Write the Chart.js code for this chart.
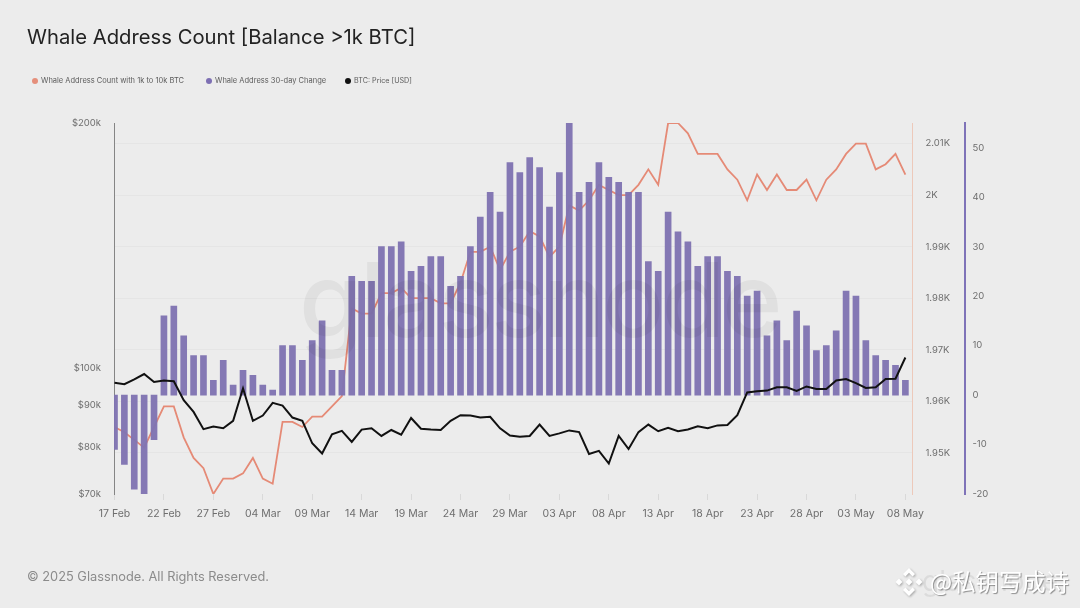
<!DOCTYPE html>
<html>
<head>
<meta charset="utf-8">
<title>Whale Address Count</title>
<script src="https://cdn.jsdelivr.net/npm/chart.js@4/dist/chart.umd.min.js"></script>
<style>
  html, body { margin: 0; padding: 0; background: #ececec; }
  #page { position: relative; width: 1080px; height: 608px; overflow: hidden; background: #ececec; font-family: Inter, "Noto Sans", sans-serif; }
  #chart { position: absolute; left: 0; top: 0; }
  .title { position: absolute; left: 27px; top: 24px; font-size: 20.25px; line-height: 26px; color: #222; white-space: nowrap; }
  .legend { position: absolute; top: 75px; font-size: 7.5px; line-height: 11px; color: #5c5c5c; white-space: nowrap; }
  .legend i { position: absolute; left: -9px; top: 2.5px; width: 6px; height: 6px; border-radius: 50%; }
  .footer { position: absolute; left: 27px; top: 568px; font-size: 12.8px; line-height: 17px; color: #8b8b8b; white-space: nowrap; }
  .mark { position: absolute; left: 299px; top: 240px; font-size: 103px; line-height: 120px; font-weight: 500; letter-spacing: -3px; color: rgba(0,0,0,0.05); white-space: nowrap; pointer-events: none; }
  .mark2 { position: absolute; left: 922px; top: 565px; font-size: 28px; line-height: 32px; color: rgba(0,0,0,0.07); white-space: nowrap; }
  .handle { position: absolute; left: 930px; top: 567px; font-family: "Noto Sans CJK SC", sans-serif; font-size: 23.4px; line-height: 28px; color: #fff; text-shadow: 1px 1px 1px rgba(0,0,0,0.4); white-space: nowrap; }
  .logo { position: absolute; left: 894px; top: 567px; filter: drop-shadow(1px 1px 1px rgba(0,0,0,0.3)); }
</style>
</head>
<body>
<div id="page">
  <canvas id="chart" width="1080" height="608"></canvas>
  <div class="title">Whale Address Count [Balance &gt;1k BTC]</div>
  <div class="legend" style="left:41px"><i style="background:#e58f7b"></i>Whale Address Count with 1k to 10k BTC</div>
  <div class="legend" style="left:215px"><i style="background:#7d6fb3"></i>Whale Address 30-day Change</div>
  <div class="legend" style="left:354px;font-size:7.2px"><i style="background:#111"></i>BTC: Price [USD]</div>
  <div class="mark">glassnode</div>
  <div class="footer">© 2025 Glassnode. All Rights Reserved.</div>
  <div class="mark2">glassnode</div>
  <svg class="logo" width="30" height="30" viewBox="0 0 30 30">
    <path fill="#fff" d="M15 1l6 6-2.4 2.4L15 5.8l-3.6 3.6L9 7zM15 29l-6-6 2.4-2.4 3.6 3.6 3.6-3.6L21 23zM5 11.6L8.400 15 5 18.400 1.600 15zM25 11.600L28.400 15 25 18.400 21.600 15zM15 11.600L18.400 15 15 18.400 11.600 15z"/>
  </svg>
  <div class="handle">@私钥写成诗</div>
</div>
<script>
const dateLabels = {
  0: "17 Feb", 5: "22 Feb", 10: "27 Feb", 15: "04 Mar", 20: "09 Mar", 25: "14 Mar", 30: "19 Mar", 35: "24 Mar",
  40: "29 Mar", 45: "03 Apr", 50: "08 Apr", 55: "13 Apr", 60: "18 Apr", 65: "23 Apr", 70: "28 Apr", 75: "03 May", 80: "08 May"
};
const whaleCount = [
  1955, 1954, 1952.5, 1951, 1955, 1959, 1959, 1953, 1949, 1947, 1942, 1945, 1945, 1946, 1949, 1945, 1944, 1956, 1956, 1955,
  1957, 1957, 1959, 1961, 1978, 1977, 1977, 1981, 1981, 1982, 1980, 1980, 1980, 1979, 1979, 1983, 1989, 1989, 1990, 1985.5,
  1989, 1990, 1993, 1992, 1988, 1990, 1998, 1997, 1999, 2002, 2001, 2000, 2000, 2002, 2005, 2002, 2014, 2014, 2012, 2008,
  2008, 2008, 2005, 2003, 1999, 2004, 2001, 2004, 2001, 2001, 2003, 1999, 2003, 2005, 2008, 2010, 2010, 2005, 2006, 2008, 2004
];
const whaleChange = [
  -11, -14, -19, -20, -9, 16, 18, 12, 8, 8, 3, 7, 2, 5, 4, 2, 1, 10, 10, 7,
  11, 15, 5, 5, 24, 23, 23, 30, 30, 31, 25, 26, 28, 28, 22, 24, 30, 36, 41, 37,
  47, 45, 48, 46, 38, 45, 55, 41, 43, 47, 44, 43, 41, 41, 27, 25, 37, 33, 31, 26,
  28, 28, 25, 24, 20, 21, 12, 15, 11, 17, 14, 9, 10, 13, 21, 20, 11, 8, 7, 6, 3
];
const btcPrice = [
  95900, 95500, 96800, 98300, 96100, 96500, 96300, 91300, 88300, 84100, 84700, 84300, 86100, 94400, 86100, 87400, 90600, 89900, 86900, 86100,
  80800, 78500, 82900, 83700, 81100, 84000, 84300, 82500, 83900, 82800, 86800, 84200, 84000, 83900, 86100, 87500, 87400, 86900, 87100, 84300,
  82600, 82300, 82500, 85200, 82500, 83100, 83800, 83400, 78400, 79100, 76300, 82500, 79500, 83400, 85200, 83600, 84400, 83600, 84000, 84800,
  84300, 85000, 85100, 87500, 93300, 93600, 93800, 94700, 94700, 93700, 94900, 94200, 94200, 96500, 96900, 95800, 94500, 94700, 96900, 97000, 103000
];
const priceTicks = [70000, 80000, 90000, 100000, 200000];

const tickFont = { family: "Inter", size: 10.5 };
const sideFont = { family: "Inter", size: 9.5 };
const tickColor = "#6e6e6e";
const toPoints = arr => arr.map((v, i) => ({ x: i, y: v }));

new Chart(document.getElementById("chart"), {
  data: {
    datasets: [
      {
        type: "line",
        label: "BTC: Price [USD]",
        data: toPoints(btcPrice),
        yAxisID: "yPrice",
        borderColor: "#111",
        borderWidth: 2,
        pointRadius: 0,
        tension: 0,
        order: 1
      },
      {
        type: "bar",
        label: "Whale Address 30-day Change",
        data: toPoints(whaleChange),
        yAxisID: "yChange",
        backgroundColor: "rgba(128,116,178,0.97)",
        barThickness: 6,
        order: 2
      },
      {
        type: "line",
        label: "Whale Address Count with 1k to 10k BTC",
        data: toPoints(whaleCount),
        yAxisID: "yCount",
        borderColor: "#e58a76",
        borderWidth: 1.8,
        pointRadius: 0,
        tension: 0,
        order: 3
      }
    ]
  },
  options: {
    responsive: false,
    animation: false,
    devicePixelRatio: 1,
    layout: { padding: { top: 123, bottom: 0, left: 0, right: 0 } },
    plugins: { legend: { display: false }, title: { display: false }, tooltip: { enabled: false } },
    scales: {
      x: {
        type: "linear",
        offset: false,
        min: -0.05,
        max: 80.72,
        grid: { offset: false, drawOnChartArea: false, drawTicks: true, tickLength: 6, color: "#d9d9d9" },
        border: { display: false },
        ticks: {
          stepSize: 5,
          includeBounds: false,
          autoSkip: false,
          maxRotation: 0,
          padding: 8,
          font: tickFont,
          color: tickColor,
          callback: v => dateLabels[v] || ""
        },
        afterFit: s => { s.height = 114; }
      },
      yPrice: {
        type: "logarithmic",
        position: "left",
        min: 70000,
        max: 200000,
        grid: { display: false, drawTicks: false },
        border: { display: true, color: "#858585", width: 1 },
        ticks: {
          autoSkip: false,
          padding: 13,
          font: sideFont,
          color: tickColor,
          callback: v => "$" + v / 1000 + "k"
        },
        afterBuildTicks: s => { s.ticks = priceTicks.map(v => ({ value: v })); },
        afterFit: s => { s.width = 114; }
      },
      yCount: {
        type: "linear",
        position: "right",
        weight: 1,
        min: 1942,
        max: 2014,
        grid: { drawTicks: false, color: "#e5e5e5" },
        border: { display: true, color: "#edc9ba", width: 1 },
        ticks: {
          stepSize: 10,
          includeBounds: false,
          padding: 13,
          font: sideFont,
          color: tickColor,
          callback: v => v / 1000 + "K"
        },
        afterFit: s => { s.width = 52; }
      },
      yChange: {
        type: "linear",
        position: "right",
        weight: 2,
        min: -20,
        max: 55,
        grid: { display: false, drawTicks: false },
        border: { display: true, color: "#7f73b8", width: 2 },
        ticks: {
          stepSize: 10,
          includeBounds: false,
          padding: 8,
          font: sideFont,
          color: tickColor
        },
        afterFit: s => { s.width = 115.500; }
      }
    }
  }
});
</script>
</body>
</html>
